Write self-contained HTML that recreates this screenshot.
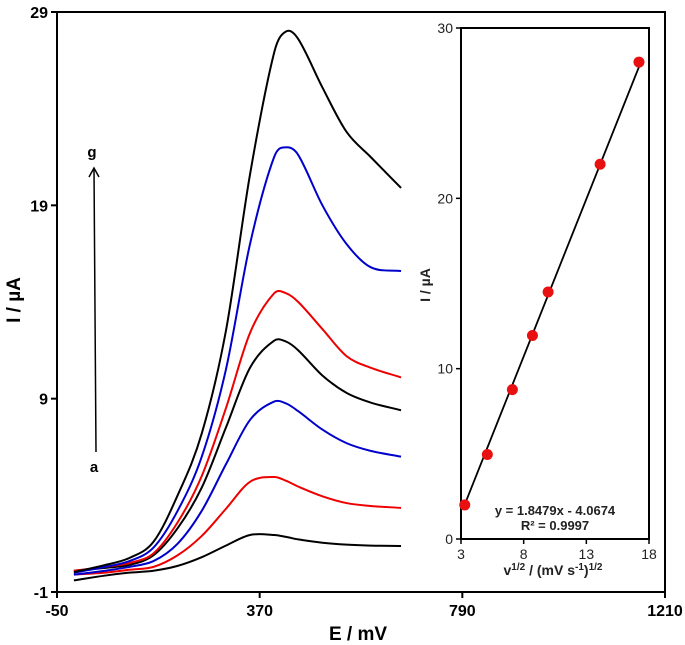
<!DOCTYPE html>
<html><head><meta charset="utf-8"><style>
body{margin:0;background:#fff}
svg{display:block;font-family:"Liberation Sans",Arial,sans-serif}
</style></head><body>
<svg id="c" width="685" height="645" viewBox="0 0 685 645">
<rect x="0" y="0" width="685" height="645" fill="#fff"/>
</svg>
<script>
const E=[-15,50,100,150,200,250,300,350,400,425,450,500,550,600,663];
const curveA=[-0.4,-0.15,0.0,0.1,0.35,0.8,1.4,1.95,1.95,1.85,1.72,1.55,1.45,1.4,1.38];
const curveB=[-0.1,0.0,0.15,0.3,0.9,1.9,3.3,4.7,4.95,4.75,4.45,3.95,3.6,3.45,3.35];
const curveC=[-0.1,0.1,0.3,0.6,1.5,3.2,5.6,7.9,8.85,8.75,8.35,7.4,6.7,6.3,6.0];
const curveD=[0.1,0.25,0.4,0.9,2.3,4.4,7.5,10.6,12.0,11.95,11.5,10.2,9.3,8.8,8.4];
const curveE=[0.1,0.3,0.5,1.0,2.6,5.0,8.5,12.4,14.45,14.45,14.0,12.6,11.2,10.6,10.1];
const curveF=[0.0,0.3,0.6,1.3,3.2,6.0,10.5,17.0,21.5,22.0,21.6,19.0,17.0,15.8,15.6];
const curveG=[0.03,0.4,0.76,1.6,4.0,7.2,12.5,20.6,26.9,28.0,27.6,25.1,22.8,21.5,19.9];
const curveColors=["#000","#e00","#00c","#000","#e00","#00c","#000"];
const xTicks=[-50,370,790,1210];
const yTicks=[-1,9,19,29];
const insetX=[3.3,5.1,7.1,8.7,9.95,14.1,17.2];
const insetY=[2.0,4.96,8.77,11.95,14.5,22.0,28.0];
const insetXTicks=[3,8,13,18];
const insetYTicks=[0,10,20,30];
const slope=1.8479, intercept=-4.0674;

const NS="http://www.w3.org/2000/svg";
const svg=document.getElementById('c');
function mk(t,a,p){const e=document.createElementNS(NS,t);for(const k in a)e.setAttribute(k,a[k]);(p||svg).appendChild(e);return e;}
const L=57,R=665,T=12,B=592;
const sx=v=>L+(v+50)/1260*(R-L);
const sy=v=>B-(v+1)/30*(B-T);
let fr=mk('rect',{x:L,y:T,width:R-L,height:B-T,fill:'none',stroke:'#000','stroke-width':2});


xTicks.forEach(v=>{
 let l=mk('line',{x1:sx(v),x2:sx(v),y1:B,y2:B+6,stroke:'#000','stroke-width':2});
 
 
 let t=mk('text',{x:sx(v),y:B+24,'text-anchor':'middle','font-size':16,'font-weight':'bold'});t.textContent=v;
 
 
});
yTicks.forEach(v=>{
 let l=mk('line',{x1:L-6,x2:L,y1:sy(v),y2:sy(v),stroke:'#000','stroke-width':2});
 
 
 let t=mk('text',{x:L-9,y:sy(v)+6,'text-anchor':'end','font-size':16,'font-weight':'bold'});t.textContent=v;
 
 
});
function smooth(pts){
 const n=pts.length,m=[];
 for(let i=0;i<n;i++){const a=pts[Math.max(0,i-1)],b=pts[Math.min(n-1,i+1)];m.push((b[1]-a[1])/(b[0]-a[0]));}
 let d='M'+pts[0][0]+','+pts[0][1];
 for(let i=0;i<n-1;i++){const p1=pts[i],p2=pts[i+1],dx=(p2[0]-p1[0])/3;
  d+=' C'+(p1[0]+dx)+','+(p1[1]+m[i]*dx)+' '+(p2[0]-dx)+','+(p2[1]-m[i+1]*dx)+' '+p2[0]+','+p2[1];}
 return d;}
[curveA,curveB,curveC,curveD,curveE,curveF,curveG].forEach((c,i)=>{
 const pts=E.map((e,j)=>[sx(e),sy(c[j])]);
 let p=mk('path',{d:smooth(pts),fill:'none',stroke:curveColors[i],'stroke-width':2});
 
 
});
let ar=mk('line',{x1:96,y1:452,x2:94,y2:170,stroke:'#000','stroke-width':1.5});


let ah=mk('path',{d:'M89,177 L94,168 L99,177',fill:'none',stroke:'#000','stroke-width':1.5});


let lg=mk('text',{x:92,y:157,'text-anchor':'middle','font-size':15,'font-weight':'bold'});lg.textContent='g';


let la=mk('text',{x:94,y:472,'text-anchor':'middle','font-size':15,'font-weight':'bold'});la.textContent='a';


let xt=mk('text',{x:358,y:640,'text-anchor':'middle','font-size':19,'font-weight':'bold'});xt.textContent='E / mV';


let yt=mk('text',{x:0,y:0,'text-anchor':'middle','font-size':19,'font-weight':'bold',transform:'translate(20,300) rotate(-90)'});yt.textContent='I / µA';


const iL=461,iR=649,iT=28,iB=539;
const ix=v=>iL+(v-3)/15*(iR-iL);
const iy=v=>iB-v/30*(iB-iT);
let ifr=mk('rect',{x:iL,y:iT,width:iR-iL,height:iB-iT,fill:'none',stroke:'#000','stroke-width':2});


insetXTicks.forEach(v=>{
 let l=mk('line',{x1:ix(v),x2:ix(v),y1:iB,y2:iB+5,stroke:'#000','stroke-width':1.5});
 
 
 let t=mk('text',{x:ix(v),y:iB+20,'text-anchor':'middle','font-size':14,fill:'#222'});t.textContent=v;
 
 
});
insetYTicks.forEach(v=>{
 let l=mk('line',{x1:iL-5,x2:iL,y1:iy(v),y2:iy(v),stroke:'#000','stroke-width':1.5});
 
 
 let t=mk('text',{x:iL-8,y:iy(v)+5,'text-anchor':'end','font-size':14,fill:'#222'});t.textContent=v;
 
 
});
const x0=insetX[0],x1=insetX[insetX.length-1];
let fit=mk('line',{x1:ix(x0),y1:iy(slope*x0+intercept),x2:ix(x1),y2:iy(slope*x1+intercept),stroke:'#000','stroke-width':1.8});


insetX.forEach((v,i)=>{
 let c=mk('circle',{cx:ix(v),cy:iy(insetY[i]),r:5.5,fill:'#e81010'});
 
 
});
let eq=mk('text',{x:555,y:515,'text-anchor':'middle','font-size':13,'font-weight':'bold',fill:'#222'});eq.textContent='y = 1.8479x  - 4.0674';


let r2=mk('text',{x:555,y:530,'text-anchor':'middle','font-size':13,'font-weight':'bold',fill:'#222'});r2.textContent='R² = 0.9997';


let ixt=mk('text',{x:553,y:575,'text-anchor':'middle','font-size':14,'font-weight':'bold',fill:'#222'});
ixt.innerHTML='v<tspan font-size="10" dy="-5">1/2</tspan><tspan dy="5"> / (mV  s</tspan><tspan font-size="10" dy="-5">-1</tspan><tspan dy="5">)</tspan><tspan font-size="10" dy="-5">1/2</tspan>';


let iyt=mk('text',{x:0,y:0,'text-anchor':'middle','font-size':14,'font-weight':'bold',fill:'#222',transform:'translate(430,285) rotate(-90)'});iyt.textContent='I / µA';


</script>
</body></html>
